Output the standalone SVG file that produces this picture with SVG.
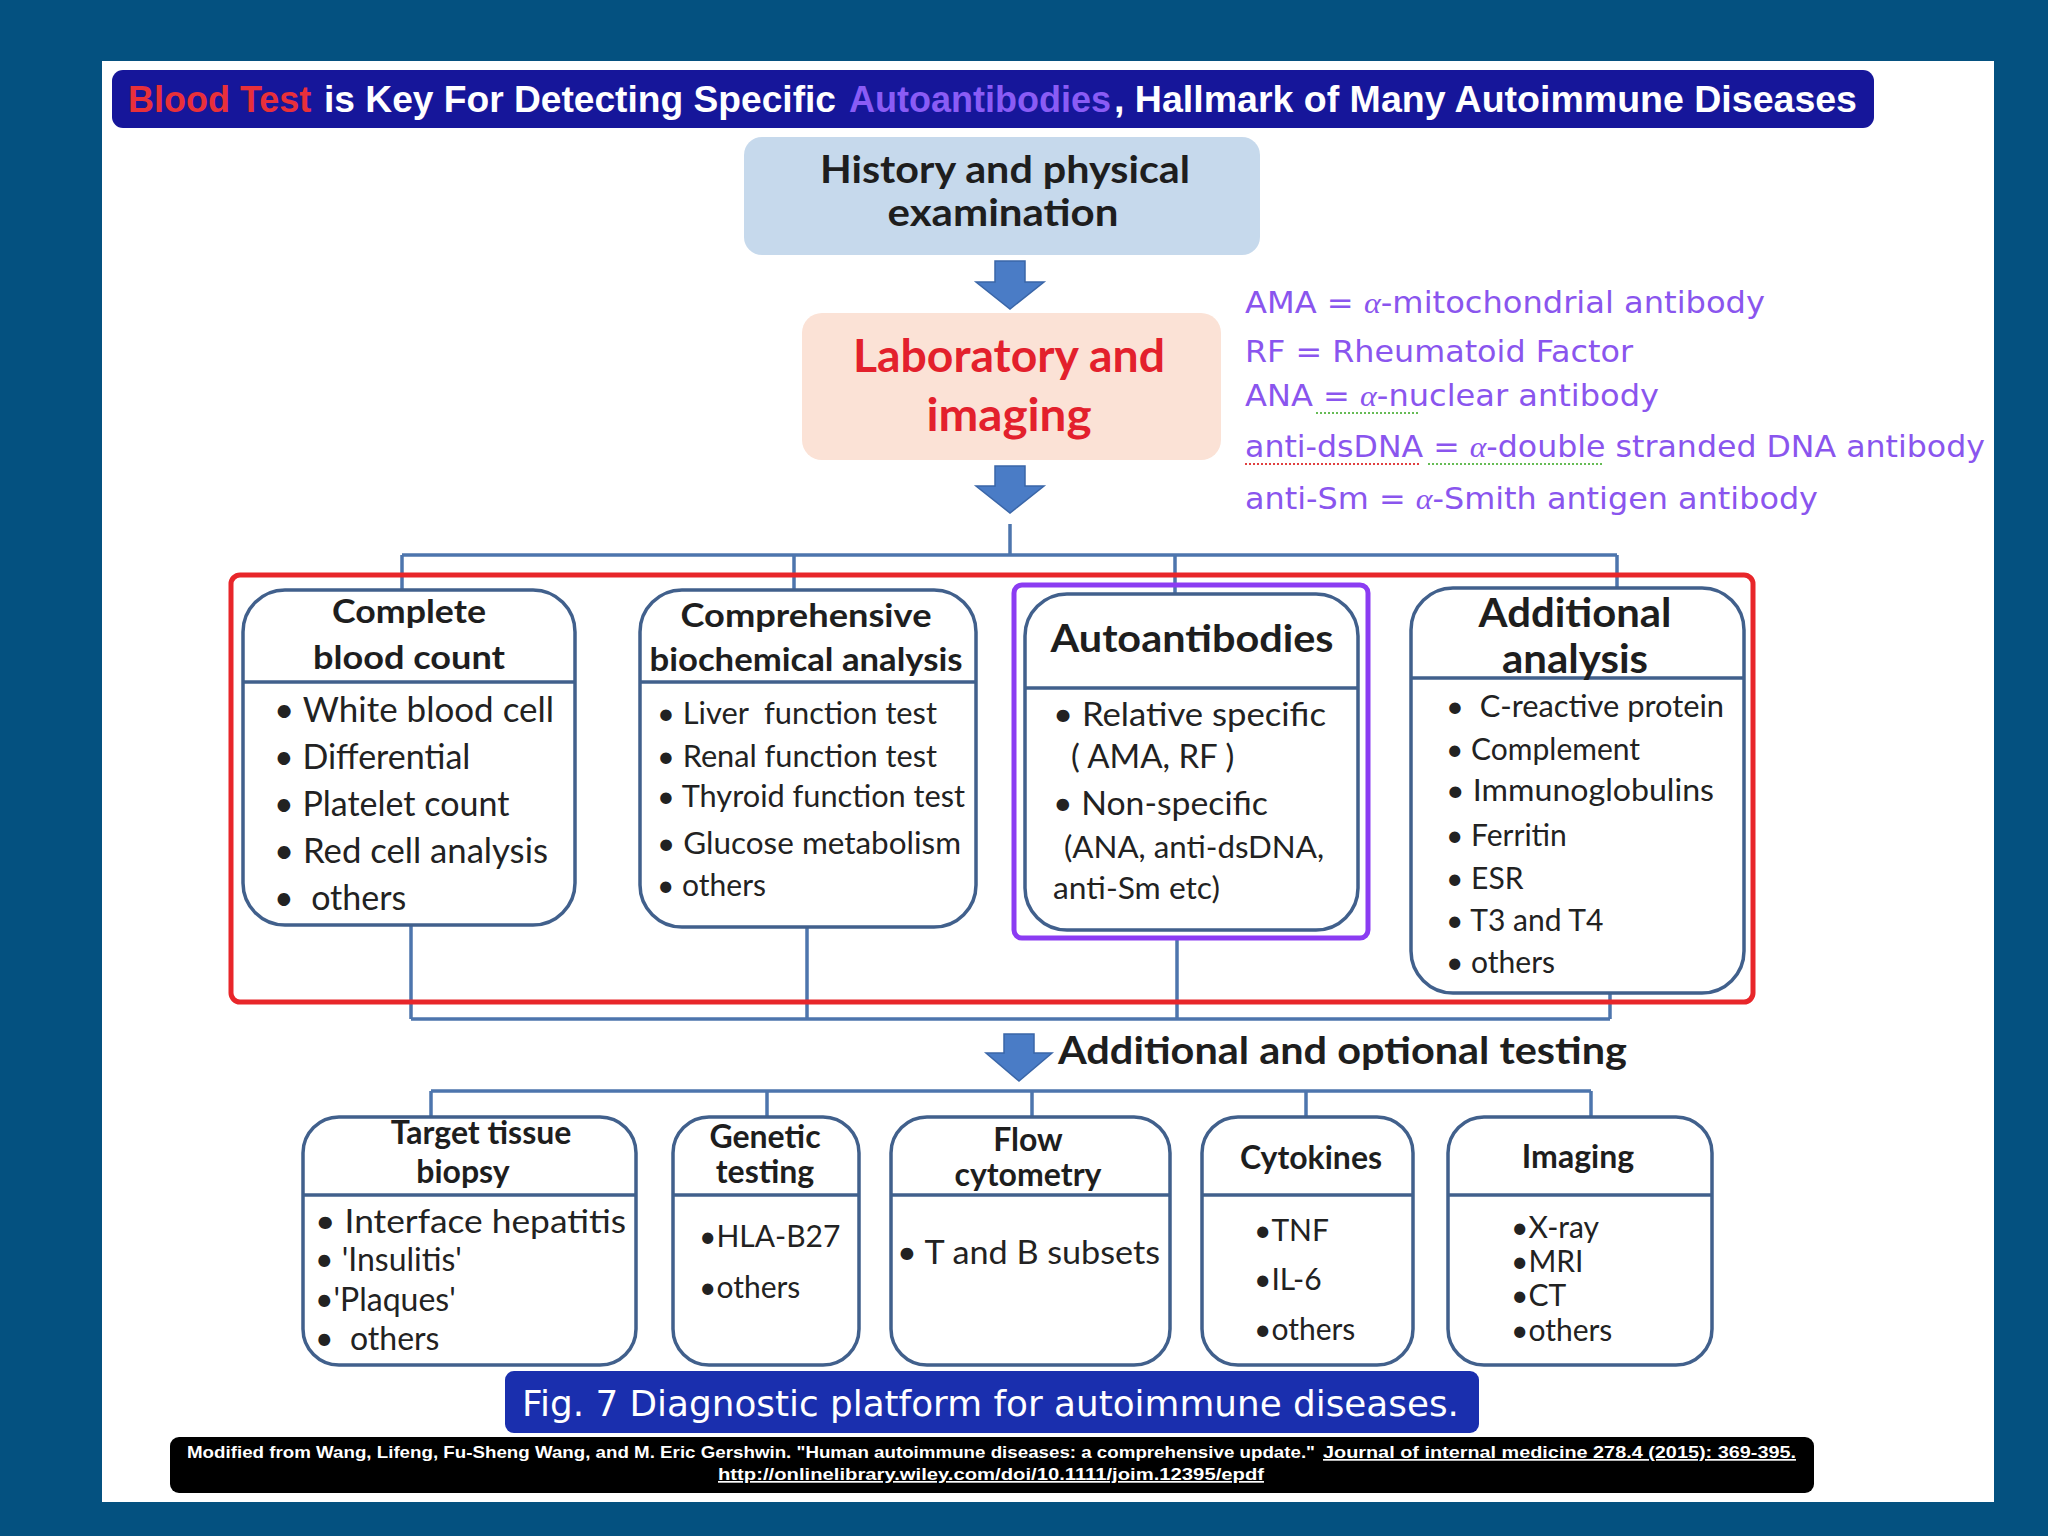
<svg xmlns="http://www.w3.org/2000/svg" width="2048" height="1536" viewBox="0 0 2048 1536">
<defs>
<style>
.box{fill:#ffffff;stroke:#41608c;stroke-width:3.5}
.div{stroke:#41608c;stroke-width:3.5}
.con{stroke:#4d75ad;stroke-width:3.5;fill:none}
.arrow{fill:#4a7cc6;stroke:#3a66a8;stroke-width:1.5}
.t{font-family:Lato,"Liberation Sans",sans-serif;fill:#222222}
.tb{font-family:Lato,"Liberation Sans",sans-serif;font-weight:bold;fill:#1e1e1e;text-anchor:middle}
.tah{font-family:"DejaVu Sans","Liberation Sans",sans-serif}
.leg{font-family:"DejaVu Sans","Liberation Sans",sans-serif;fill:#8a55ee;font-size:30px}
.alpha{font-family:"Liberation Serif",serif;font-style:italic}
.ttl{font-family:"Liberation Sans",Arial,sans-serif;font-size:36px;font-weight:bold}
.cit{font-family:"Liberation Sans",Arial,sans-serif;font-size:17px;font-weight:bold;fill:#ffffff}
</style>
</defs>
<rect x="0" y="0" width="2048" height="1536" fill="#045180"/>
<rect x="102" y="61" width="1892" height="1441" fill="#ffffff"/>

<g id="title">
<rect x="112" y="70" width="1762" height="58" rx="11" fill="#16169a"/>
<text class="ttl" x="128" y="112" fill="#e8303a">Blood Test</text>
<text class="ttl" x="324" y="112" fill="#ffffff" textLength="512" lengthAdjust="spacingAndGlyphs">is Key For Detecting Specific</text>
<text class="ttl" x="849" y="112" fill="#8a5cf5">Autoantibodies</text>
<text class="ttl" x="1114" y="112" fill="#ffffff" textLength="743" lengthAdjust="spacingAndGlyphs">, Hallmark of Many Autoimmune Diseases</text>
</g>

<g id="history">
<rect x="744" y="137" width="516" height="118" rx="18" fill="#c6d9ec"/>
<text class="tb" x="1005" y="183" font-size="38" textLength="370" lengthAdjust="spacingAndGlyphs">History and physical</text>
<text class="tb" x="1003" y="226" font-size="38" textLength="231" lengthAdjust="spacingAndGlyphs">examination</text>
</g>

<g id="lab">
<rect x="802" y="313" width="419" height="147" rx="20" fill="#fbe2d6"/>
<text class="tb" x="1009" y="372" font-size="45" style="fill:#e3202c" textLength="312" lengthAdjust="spacingAndGlyphs">Laboratory and</text>
<text class="tb" x="1009" y="431" font-size="45" style="fill:#e3202c" textLength="165" lengthAdjust="spacingAndGlyphs">imaging</text>
</g>

<g id="legend">
<text class="leg" x="1245" y="313" textLength="520" lengthAdjust="spacingAndGlyphs">AMA = <tspan class="alpha">α</tspan>-mitochondrial antibody</text>
<text class="leg" x="1245" y="362" textLength="388" lengthAdjust="spacingAndGlyphs">RF = Rheumatoid Factor</text>
<text class="leg" x="1245" y="406" textLength="414" lengthAdjust="spacingAndGlyphs">ANA = <tspan class="alpha">α</tspan>-nuclear antibody</text>
<text class="leg" x="1245" y="457" textLength="740" lengthAdjust="spacingAndGlyphs">anti-dsDNA = <tspan class="alpha">α</tspan>-double stranded DNA antibody</text>
<text class="leg" x="1245" y="509" textLength="573" lengthAdjust="spacingAndGlyphs">anti-Sm = <tspan class="alpha">α</tspan>-Smith antigen antibody</text>
<line x1="1316" y1="413" x2="1418" y2="413" stroke="#66bb55" stroke-width="2" stroke-dasharray="2,2"/>
<line x1="1245" y1="464" x2="1421" y2="464" stroke="#e04040" stroke-width="2" stroke-dasharray="2,2"/>
<line x1="1428" y1="464" x2="1604" y2="464" stroke="#66bb55" stroke-width="2" stroke-dasharray="2,2"/>
</g>

<g id="connectors">
<path class="arrow" d="M995,261 H1025 V282 H1044 L1010,309 L976,282 H995 Z"/>
<path class="arrow" d="M995,466 H1025 V486 H1044 L1010,513 L976,486 H995 Z"/>
<path class="arrow" d="M1004,1034 H1034 V1053 H1052 L1019,1081 L986,1053 H1004 Z"/>
<path class="con" d="M1010,524 V555 M402,555 H1617 M402,555 V590 M794,555 V590 M1175,555 V594 M1617,555 V588"/>
<path class="con" d="M411,925 V1019 M807,927 V1019 M1177,938 V1019 M1610,993 V1019 M411,1019 H1610"/>
<path class="con" d="M431,1091 H1591 M431,1091 V1117 M767,1091 V1117 M1032,1091 V1117 M1306,1091 V1117 M1591,1091 V1117"/>
</g>

<rect id="red-frame" x="231" y="575" width="1522" height="427" rx="9" fill="none" stroke="#e8262a" stroke-width="5"/>
<rect id="purple-frame" x="1014" y="585" width="354" height="353" rx="8" fill="none" stroke="#8b3cf2" stroke-width="5"/>

<g id="cbc">
<rect class="box" x="243" y="590" width="332" height="335" rx="42"/>
<line class="div" x1="243" y1="682" x2="575" y2="682"/>
<text class="tb" x="409" y="623" font-size="32" textLength="154" lengthAdjust="spacingAndGlyphs">Complete</text>
<text class="tb" x="409" y="669" font-size="32" textLength="192" lengthAdjust="spacingAndGlyphs">blood count</text>
<text class="t" x="274" y="722" font-size="34" textLength="280" lengthAdjust="spacingAndGlyphs">• White blood cell</text>
<text class="t" x="274" y="769" font-size="34">• Differential</text>
<text class="t" x="274" y="816" font-size="34">• Platelet count</text>
<text class="t" x="274" y="863" font-size="34" textLength="274" lengthAdjust="spacingAndGlyphs">• Red cell analysis</text>
<text class="t" x="274" y="910" font-size="34" xml:space="preserve">•  others</text>
</g>

<g id="cba">
<rect class="box" x="640" y="590" width="336" height="337" rx="42"/>
<line class="div" x1="640" y1="682" x2="976" y2="682"/>
<text class="tb" x="806" y="627" font-size="32" textLength="251" lengthAdjust="spacingAndGlyphs">Comprehensive</text>
<text class="tb" x="806" y="671" font-size="32" textLength="313" lengthAdjust="spacingAndGlyphs">biochemical analysis</text>
<text class="t" x="657" y="724" font-size="30" textLength="280" lengthAdjust="spacingAndGlyphs" xml:space="preserve">• Liver  function test</text>
<text class="t" x="657" y="767" font-size="30" textLength="280" lengthAdjust="spacingAndGlyphs">• Renal function test</text>
<text class="t" x="657" y="807" font-size="30" textLength="308" lengthAdjust="spacingAndGlyphs">• Thyroid function test</text>
<text class="t" x="657" y="854" font-size="30" textLength="304" lengthAdjust="spacingAndGlyphs">• Glucose metabolism</text>
<text class="t" x="657" y="896" font-size="30">• others</text>
</g>

<g id="autoantibodies">
<rect class="box" x="1025" y="594" width="333" height="336" rx="42"/>
<line class="div" x1="1025" y1="688" x2="1358" y2="688"/>
<text class="tb" x="1192" y="652" font-size="38" textLength="283" lengthAdjust="spacingAndGlyphs">Autoantibodies</text>
<text class="t" x="1053" y="726" font-size="33" textLength="273" lengthAdjust="spacingAndGlyphs">• Relative specific</text>
<text class="t" x="1071" y="768" font-size="33" xml:space="preserve">( AMA, RF )</text>
<text class="t" x="1053" y="815" font-size="33" textLength="215" lengthAdjust="spacingAndGlyphs">• Non-specific</text>
<text class="t" x="1064" y="858" font-size="31" textLength="260" lengthAdjust="spacingAndGlyphs">(ANA, anti-dsDNA,</text>
<text class="t" x="1053" y="899" font-size="31" textLength="167" lengthAdjust="spacingAndGlyphs">anti-Sm etc)</text>
</g>

<g id="additional">
<rect class="box" x="1411" y="588" width="333" height="405" rx="42"/>
<line class="div" x1="1411" y1="678" x2="1744" y2="678"/>
<text class="tb" x="1575" y="627" font-size="40" textLength="193" lengthAdjust="spacingAndGlyphs">Additional</text>
<text class="tb" x="1575" y="673" font-size="40" textLength="146" lengthAdjust="spacingAndGlyphs">analysis</text>
<text class="t" x="1446" y="717" font-size="30" textLength="278" lengthAdjust="spacingAndGlyphs" xml:space="preserve">•  C-reactive protein</text>
<text class="t" x="1446" y="760" font-size="30">• Complement</text>
<text class="t" x="1446" y="801" font-size="30" textLength="268" lengthAdjust="spacingAndGlyphs">• Immunoglobulins</text>
<text class="t" x="1446" y="846" font-size="30">• Ferritin</text>
<text class="t" x="1446" y="889" font-size="30">• ESR</text>
<text class="t" x="1446" y="931" font-size="30">• T3 and T4</text>
<text class="t" x="1446" y="973" font-size="30">• others</text>
</g>

<g id="optional-label">
<text class="tb" x="1058" y="1064" font-size="38" style="text-anchor:start" textLength="569" lengthAdjust="spacingAndGlyphs">Additional and optional testing</text>
</g>

<g id="biopsy">
<rect class="box" x="303" y="1117" width="333" height="248" rx="36"/>
<line class="div" x1="303" y1="1195" x2="636" y2="1195"/>
<text class="tb" x="481" y="1144" font-size="32">Target tissue</text>
<text class="tb" x="463" y="1183" font-size="32">biopsy</text>
<text class="t" x="315" y="1233" font-size="32" textLength="311" lengthAdjust="spacingAndGlyphs">• Interface hepatitis</text>
<text class="t" x="315" y="1271" font-size="32">• 'Insulitis'</text>
<text class="t" x="315" y="1311" font-size="32">•'Plaques'</text>
<text class="t" x="315" y="1350" font-size="32" xml:space="preserve">•  others</text>
</g>

<g id="genetic">
<rect class="box" x="673" y="1117" width="186" height="248" rx="36"/>
<line class="div" x1="673" y1="1195" x2="859" y2="1195"/>
<text class="tb" x="765" y="1148" font-size="32">Genetic</text>
<text class="tb" x="765" y="1183" font-size="32">testing</text>
<text class="t" x="699" y="1247" font-size="30">•HLA-B27</text>
<text class="t" x="699" y="1298" font-size="30">•others</text>
</g>

<g id="flow">
<rect class="box" x="891" y="1117" width="279" height="248" rx="36"/>
<line class="div" x1="891" y1="1195" x2="1170" y2="1195"/>
<text class="tb" x="1028" y="1151" font-size="32">Flow</text>
<text class="tb" x="1028" y="1186" font-size="32">cytometry</text>
<text class="t" x="897" y="1264" font-size="32" textLength="263" lengthAdjust="spacingAndGlyphs">• T and B subsets</text>
</g>

<g id="cytokines">
<rect class="box" x="1202" y="1117" width="211" height="248" rx="36"/>
<line class="div" x1="1202" y1="1195" x2="1413" y2="1195"/>
<text class="tb" x="1311" y="1169" font-size="32">Cytokines</text>
<text class="t" x="1254" y="1241" font-size="30">•TNF</text>
<text class="t" x="1254" y="1290" font-size="30">•IL-6</text>
<text class="t" x="1254" y="1340" font-size="30">•others</text>
</g>

<g id="imaging">
<rect class="box" x="1448" y="1117" width="264" height="248" rx="36"/>
<line class="div" x1="1448" y1="1195" x2="1712" y2="1195"/>
<text class="tb" x="1578" y="1168" font-size="32">Imaging</text>
<text class="t" x="1511" y="1238" font-size="30">•X-ray</text>
<text class="t" x="1511" y="1272" font-size="30">•MRI</text>
<text class="t" x="1511" y="1306" font-size="30">•CT</text>
<text class="t" x="1511" y="1341" font-size="30">•others</text>
</g>

<g id="caption">
<rect x="505" y="1371" width="974" height="62" rx="9" fill="#1a2fae"/>
<text class="tah" x="522" y="1416" font-size="35" fill="#ffffff" textLength="937" lengthAdjust="spacingAndGlyphs">Fig. 7 Diagnostic platform for autoimmune diseases.</text>
</g>

<g id="citation">
<rect x="170" y="1437" width="1644" height="56" rx="9" fill="#000000"/>
<text class="cit" x="187" y="1458" textLength="1128" lengthAdjust="spacingAndGlyphs">Modified from Wang, Lifeng, Fu-Sheng Wang, and M. Eric Gershwin. "Human autoimmune diseases: a comprehensive update."</text>
<text class="cit" x="1323" y="1458" text-decoration="underline" textLength="473" lengthAdjust="spacingAndGlyphs">Journal of internal medicine 278.4 (2015): 369-395.</text>
<text class="cit" x="718" y="1480" text-decoration="underline" textLength="546" lengthAdjust="spacingAndGlyphs">http://onlinelibrary.wiley.com/doi/10.1111/joim.12395/epdf</text>
</g>
</svg>
